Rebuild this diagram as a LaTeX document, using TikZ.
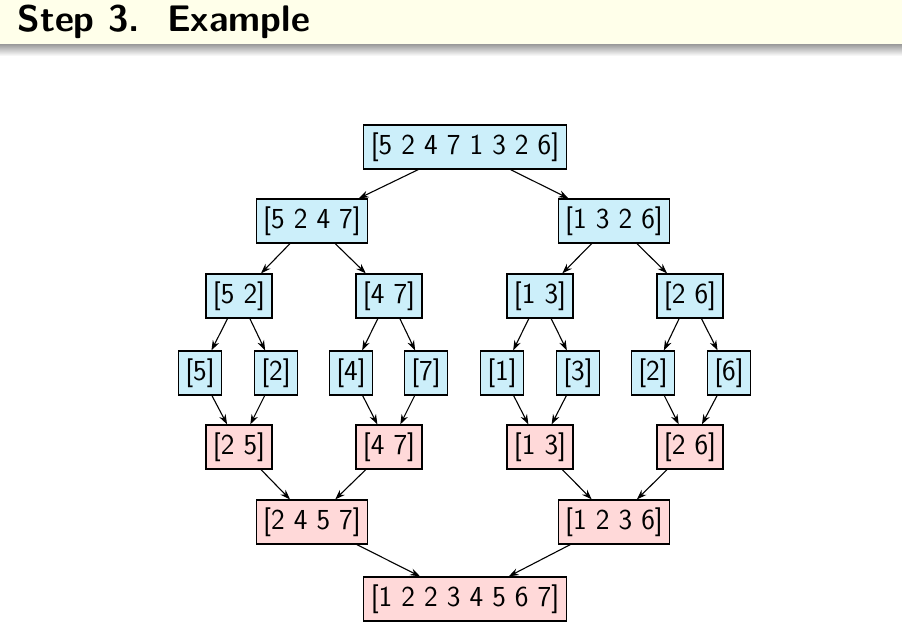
\documentclass[tikz,border=0pt]{standalone}
\usetikzlibrary{arrows.meta}
\definecolor{hdr}{HTML}{FFFFEA}
\definecolor{blu}{HTML}{CCEFFA}
\definecolor{pnk}{HTML}{FFD9D9}
\begin{document}
\begin{tikzpicture}[x=1pt,y=-1pt,
  box/.style={draw,line width=1.2pt,minimum height=44pt,inner xsep=7pt,font=\sffamily\fontsize{29}{32}\selectfont},
  sb/.style={box,fill=blu}, mb/.style={box,fill=pnk},
  ar/.style={-{Stealth[length=10pt,width=7pt]},line width=1.1pt}]
\useasboundingbox (0,0) rectangle (902,640);
\fill[hdr] (0,0) rectangle (902,44);
\shade[top color=gray!80,bottom color=white] (0,44) rectangle (902,56);
\node[anchor=west,font=\sffamily\bfseries\fontsize{37}{40}\selectfont] (t) at (14,22) {Step 3.~~Example};
\node[sb] (r) at (465,147) {[5 2 4 7 1 3 2 6]};
\node[sb] (a) at (312,221) {[5 2 4 7]};
\node[sb] (b) at (614,221) {[1 3 2 6]};
\node[sb] (a1) at (239,296) {[5 2]};
\node[sb] (a2) at (389,296) {[4 7]};
\node[sb] (b1) at (540,296) {[1 3]};
\node[sb] (b2) at (690,296) {[2 6]};
\node[sb] (l1) at (200,373) {[5]};
\node[sb] (l2) at (276,373) {[2]};
\node[sb] (l3) at (351,373) {[4]};
\node[sb] (l4) at (426,373) {[7]};
\node[sb] (l5) at (502,373) {[1]};
\node[sb] (l6) at (578,373) {[3]};
\node[sb] (l7) at (653,373) {[2]};
\node[sb] (l8) at (729,373) {[6]};
\node[mb] (m1) at (239,447) {[2 5]};
\node[mb] (m2) at (389,447) {[4 7]};
\node[mb] (m3) at (540,447) {[1 3]};
\node[mb] (m4) at (690,447) {[2 6]};
\node[mb] (n1) at (312,522) {[2 4 5 7]};
\node[mb] (n2) at (614,522) {[1 2 3 6]};
\node[mb] (f) at (465,599) {[1 2 2 3 4 5 6 7]};
\foreach \p/\c in {r/a,r/b,a/a1,a/a2,b/b1,b/b2,a1/l1,a1/l2,a2/l3,a2/l4,b1/l5,b1/l6,b2/l7,b2/l8,
  l1/m1,l2/m1,l3/m2,l4/m2,l5/m3,l6/m3,l7/m4,l8/m4,m1/n1,m2/n1,m3/n2,m4/n2,n1/f,n2/f}
  \draw[ar] (\p) -- (\c);
\end{tikzpicture}
\end{document}
